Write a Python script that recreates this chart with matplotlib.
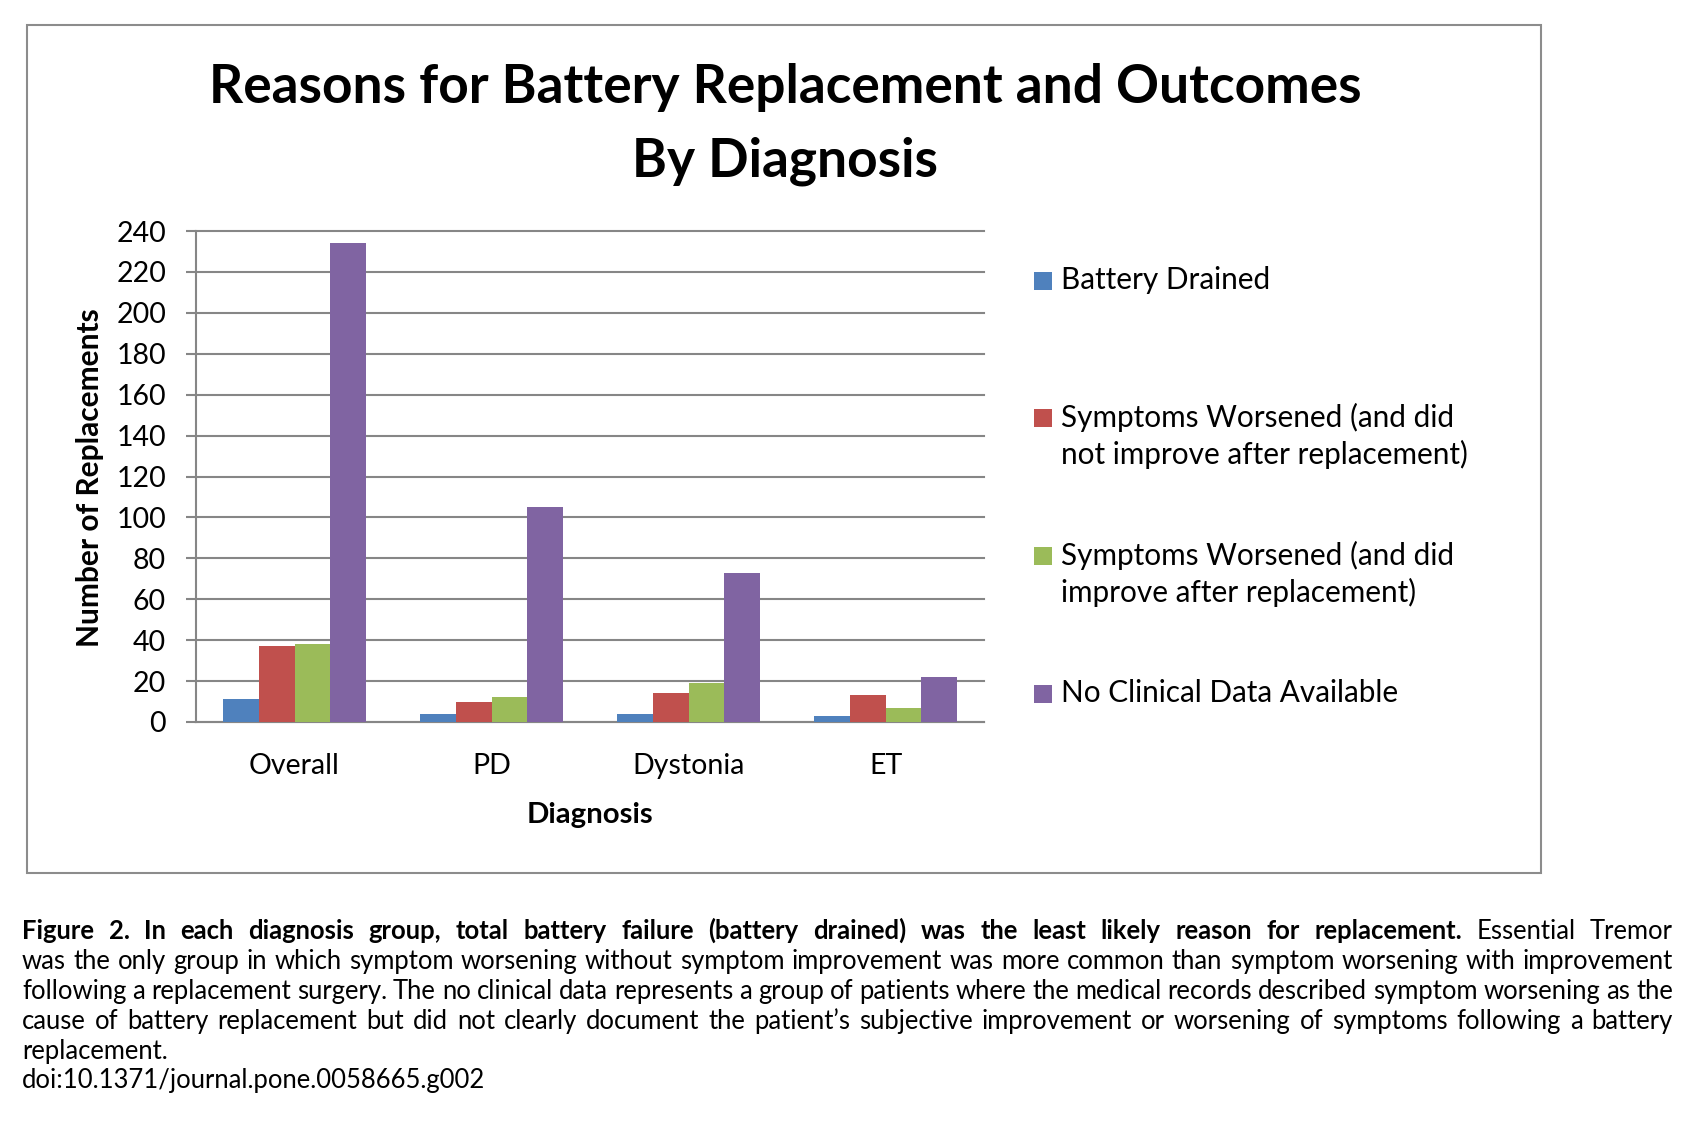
import matplotlib
matplotlib.use('Agg')
import matplotlib.pyplot as plt
from matplotlib.patches import Rectangle
import numpy as np

# ---------------- data ----------------
categories = ['Overall', 'PD', 'Dystonia', 'ET']
series_labels = [
    ['Battery Drained'],
    ['Symptoms Worsened (and did', 'not improve after replacement)'],
    ['Symptoms Worsened (and did', 'improve after replacement)'],
    ['No Clinical Data Available'],
]
battery_drained = [11, 4, 4, 3]
worsened_not_improved = [37, 10, 14, 13]
worsened_improved = [38, 12, 19, 7]
no_clinical_data = [234, 105, 73, 22]
y_ticks = list(range(0, 241, 20))
series_values = [battery_drained, worsened_not_improved, worsened_improved, no_clinical_data]
colors = ['#4F81BD', '#C0504D', '#9BBB59', '#8064A2']

title_lines = ['Reasons for Battery Replacement and Outcomes', 'By Diagnosis']
y_label = 'Number of Replacements'
x_label = 'Diagnosis'

caption_bold = ('Figure 2. In each diagnosis group, total battery failure (battery drained) '
                'was the least likely reason for replacement.')
caption_rest = ('Essential Tremor was the only group in which symptom worsening without symptom '
                'improvement was more common than symptom worsening with improvement following a '
                'replacement surgery. The no clinical data represents a group of patients where the '
                'medical records described symptom worsening as the cause of battery replacement but '
                'did not clearly document the patient\u2019s subjective improvement or worsening of '
                'symptoms following a battery replacement.')
caption_doi = 'doi:10.1371/journal.pone.0058665.g002'
caption_line_word_counts = [20, 19, 22, 20, 1]

# ---------------- figure ----------------
W, H = 1696, 1124
DPI = 100
fig = plt.figure(figsize=(W / DPI, H / DPI), dpi=DPI)
fig.patch.set_facecolor('white')
renderer = fig.canvas.get_renderer()
FONT = 'Lato'
GRAY = '#868686'


def fx(x):
    return x / W


def fy(y):
    return 1 - y / H


def measure(text, size, weight='normal', family=FONT):
    t = fig.text(0, 0, text, fontsize=size, family=family, weight=weight)
    w = t.get_window_extent(renderer).width
    t.remove()
    return w


def fit_size(text, target_px, weight='normal', family=FONT):
    return 20 * target_px / measure(text, 20, weight, family)


# outer frame
fig.add_artist(Rectangle((fx(27), fy(873)), (1541 - 27) / W, (873 - 25) / H,
                         transform=fig.transFigure, fill=False,
                         edgecolor='#8c8c8c', lw=1.5))

# title
ts = fit_size(title_lines[0], 1153, 'bold')
fig.text(fx(785), fy(103), title_lines[0], fontsize=ts, family=FONT, weight='bold',
         ha='center', va='baseline')
fig.text(fx(785), fy(177), title_lines[1], fontsize=ts, family=FONT, weight='bold',
         ha='center', va='baseline')

# axes
ax = fig.add_axes([fx(196), fy(722), (984 - 196) / W, (722 - 231) / H])
x = np.arange(len(categories))
bw = 1 / 5.5
for i, (vals, col) in enumerate(zip(series_values, colors)):
    ax.bar(x + (i - 1.5) * bw, vals, width=bw, color=col, edgecolor='none',
           label=' '.join(series_labels[i]), zorder=3)
ax.set_xlim(-0.5, len(categories) - 0.5)
ax.set_ylim(0, 240)
ax.set_yticks(y_ticks)
ax.set_xticks(x)
tick_size = fit_size('Overall', 91)
ax.set_xticklabels(categories, fontsize=tick_size, family=FONT)
ax.set_yticklabels([str(v) for v in y_ticks], fontsize=tick_size, family=FONT)
ax.yaxis.grid(True, color=GRAY, lw=1.5, zorder=1)
for gl in ax.get_ygridlines():
    gl.set_clip_on(False)
ax.set_axisbelow(True)
for s in ['top', 'right']:
    ax.spines[s].set_visible(False)
for s in ['left', 'bottom']:
    ax.spines[s].set_color(GRAY)
    ax.spines[s].set_linewidth(1.5)
ax.tick_params(axis='y', length=7.2, width=1.5, color=GRAY, pad=14.4)
ax.tick_params(axis='x', length=0, pad=22.5)

# axis labels
ys = fit_size(y_label, 339, 'bold')
fig.text(fx(90), fy(478), y_label, fontsize=ys, family=FONT, weight='bold',
         rotation=90, ha='center', va='center')
xs = fit_size(x_label, 127, 'bold')
fig.text(fx(590), fy(823), x_label, fontsize=xs, family=FONT, weight='bold',
         ha='center', va='baseline')

# legend (manual, to match layout)
ls = fit_size(series_labels[1][0], 393)
leg_centers = [280.5, 418, 556, 693.5]
for lab, col, cy in zip(series_labels, colors, leg_centers):
    fig.add_artist(Rectangle((fx(1034), fy(cy + 9)), 18 / W, 18 / H,
                             transform=fig.transFigure, facecolor=col, edgecolor='none'))
    for k, line in enumerate(lab):
        fig.text(fx(1061), fy(cy + 9 + 37.3 * k), line, fontsize=ls, family=FONT,
                 ha='left', va='baseline')

# caption (justified)
words = [(w, 'bold') for w in caption_bold.split()] + [(w, 'normal') for w in caption_rest.split()]
lines = []
idx = 0
for n in caption_line_word_counts:
    lines.append(words[idx:idx + n])
    idx += n
cap_left, cap_right = 22, 1673
cs = fit_size(' '.join(w for w, _ in lines[1]), 1640)
baselines = [939, 969, 999, 1029, 1059, 1088]
space_w = measure('a b', cs) - measure('ab', cs)
for li, line in enumerate(lines):
    widths = [measure(w, cs, wt) for w, wt in line]
    justify = li < len(lines) - 1
    if justify and len(line) > 1:
        gap = (cap_right - cap_left - sum(widths)) / (len(line) - 1)
    else:
        gap = space_w
    xpos = cap_left
    for (w, wt), wd in zip(line, widths):
        fig.text(fx(xpos), fy(baselines[li]), w, fontsize=cs, family=FONT, weight=wt,
                 ha='left', va='baseline')
        xpos += wd + gap
fig.text(fx(cap_left), fy(baselines[5]), caption_doi, fontsize=cs, family=FONT,
         ha='left', va='baseline')

fig.savefig('out.png', dpi=DPI, facecolor='white')
